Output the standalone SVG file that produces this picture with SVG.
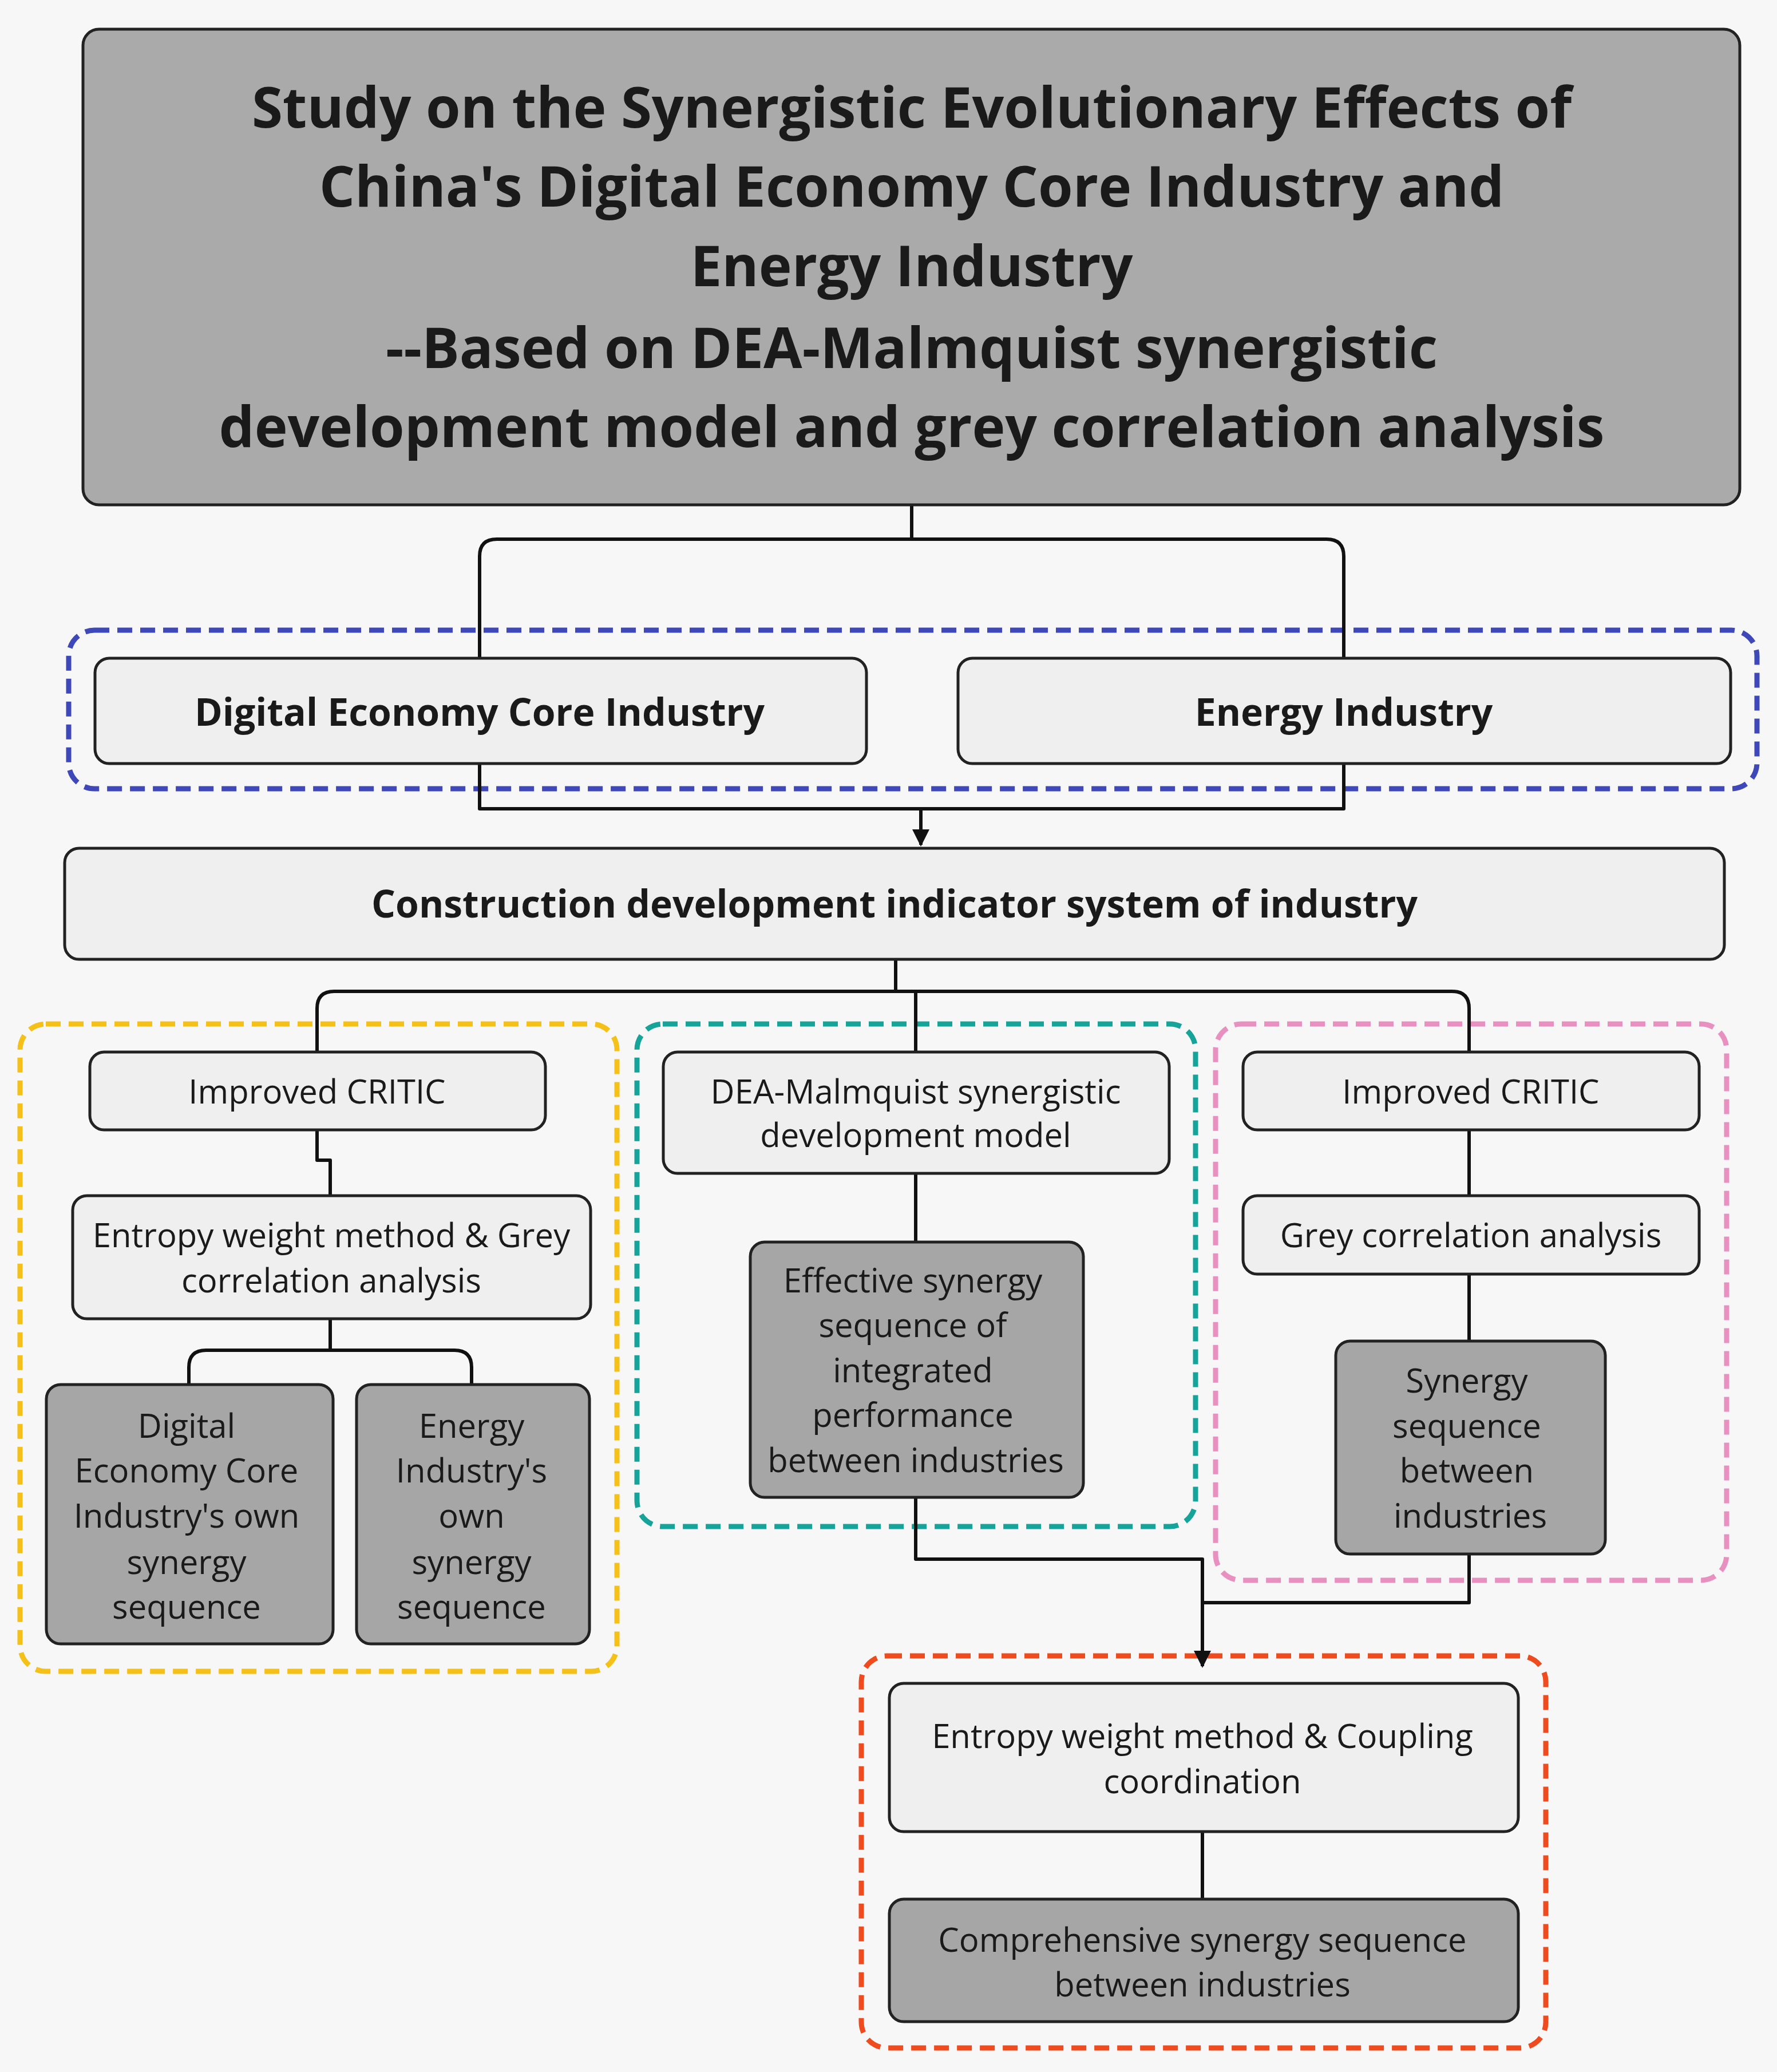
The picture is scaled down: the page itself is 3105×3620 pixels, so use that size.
<svg xmlns="http://www.w3.org/2000/svg" width="3105" height="3620" viewBox="0 0 3105 3620">
<defs>
<style>
.t{font-family:"Open Sans","Liberation Sans",sans-serif;fill:#1a1a1a;text-anchor:middle;dominant-baseline:central}
.b{font-weight:bold}
.n{font-size:58px}
.l{fill:#efefef;stroke:#222;stroke-width:5}
.d{fill:#a6a6a6;stroke:#222;stroke-width:5}
.g{fill:none;stroke-width:9;stroke-dasharray:26 14}
.c{fill:none;stroke:#111;stroke-width:6;stroke-linejoin:round}
</style>
<marker id="a" viewBox="0 0 10 10" refX="9" refY="5" markerWidth="5" markerHeight="5" orient="auto"><path d="M0,0L10,5L0,10z" fill="#111"/></marker>
</defs>
<rect width="3105" height="3620" fill="#f7f7f7"/>
<g id="groups">
<rect class="g" x="120" y="1101" width="2950" height="277" rx="45" stroke="#3f48b8"/>
<rect class="g" x="35" y="1789" width="1043" height="1131" rx="45" stroke="#f5c018"/>
<rect class="g" x="1113" y="1789" width="976" height="878" rx="45" stroke="#15a39a"/>
<rect class="g" x="2124" y="1789" width="893" height="972" rx="45" stroke="#e890c0"/>
<rect class="g" x="1505" y="2893" width="1196" height="685" rx="45" stroke="#f04b1e"/>
</g>
<g id="connectors">
<path class="c" d="M1593,882V942H868Q838,942 838,972V1150M1593,942H2318Q2348,942 2348,972V1150"/>
<path class="c" d="M838,1334V1413H2348V1334"/>
<path class="c" d="M1609,1413V1476" marker-end="url(#a)"/>
<path class="c" d="M1565,1676V1732M584,1732H2537Q2567,1732 2567,1762V1838M554,1838V1762Q554,1732 584,1732M1600,1732V1838"/>
<path class="c" d="M554,1974V2027H577V2089"/>
<path class="c" d="M577,2304V2359M360,2359H794Q824,2359 824,2389V2419M330,2419V2389Q330,2359 360,2359"/>
<path class="c" d="M1600,2050V2170"/>
<path class="c" d="M2567,1974V2089M2567,2226V2343"/>
<path class="c" d="M1600,2616V2724H2101V2911" marker-end="url(#a)"/>
<path class="c" d="M2567,2715V2800H2101"/>
<path class="c" d="M2101,3200V3318"/>
</g>
<g id="title">
<rect x="145" y="51" width="2895" height="831" rx="28" fill="#aaaaaa" stroke="#222" stroke-width="5"/>
<text class="t b" font-size="98"><tspan x="1593" y="185">Study on the Synergistic Evolutionary Effects of</tspan><tspan x="1593" y="323">China's Digital Economy Core Industry and</tspan><tspan x="1593" y="462">Energy Industry</tspan><tspan x="1593" y="605">--Based on DEA-Malmquist synergistic</tspan><tspan x="1593" y="743">development model and grey correlation analysis</tspan></text>
</g>
<g id="dec"><rect class="l" x="166" y="1150" width="1348" height="184" rx="25"/><text class="t b" font-size="66" x="838" y="1242">Digital Economy Core Industry</text></g>
<g id="ei"><rect class="l" x="1674" y="1150" width="1350" height="184" rx="25"/><text class="t b" font-size="66" x="2348" y="1242">Energy Industry</text></g>
<g id="cons"><rect class="l" x="113" y="1482" width="2900" height="194" rx="25"/><text class="t b" font-size="66" x="1563" y="1577">Construction development indicator system of industry</text></g>
<g id="critic1"><rect class="l" x="157" y="1838" width="796" height="136" rx="25"/><text class="t n" x="554" y="1905">Improved CRITIC</text></g>
<g id="ewg"><rect class="l" x="127" y="2089" width="905" height="215" rx="25"/><text class="t n"><tspan x="579" y="2156">Entropy weight method &amp; Grey</tspan><tspan x="579" y="2235">correlation analysis</tspan></text></g>
<g id="decseq"><rect class="d" x="81" y="2419" width="501" height="453" rx="25"/><text class="t n"><tspan x="326" y="2489">Digital</tspan><tspan x="326" y="2567">Economy Core</tspan><tspan x="326" y="2646">Industry's own</tspan><tspan x="326" y="2727">synergy</tspan><tspan x="326" y="2805">sequence</tspan></text></g>
<g id="eiseq"><rect class="d" x="623" y="2419" width="407" height="453" rx="25"/><text class="t n"><tspan x="824" y="2489">Energy</tspan><tspan x="824" y="2567">Industry's</tspan><tspan x="824" y="2646">own</tspan><tspan x="824" y="2727">synergy</tspan><tspan x="824" y="2805">sequence</tspan></text></g>
<g id="dea"><rect class="l" x="1159" y="1838" width="884" height="212" rx="25"/><text class="t n"><tspan x="1600" y="1905">DEA-Malmquist synergistic</tspan><tspan x="1600" y="1981">development model</tspan></text></g>
<g id="eff"><rect class="d" x="1311" y="2170" width="582" height="446" rx="25"/><text class="t n"><tspan x="1595" y="2235">Effective synergy</tspan><tspan x="1595" y="2313">sequence of</tspan><tspan x="1595" y="2392">integrated</tspan><tspan x="1595" y="2470">performance</tspan><tspan x="1600" y="2549">between industries</tspan></text></g>
<g id="critic2"><rect class="l" x="2172" y="1838" width="797" height="136" rx="25"/><text class="t n" x="2570" y="1905">Improved CRITIC</text></g>
<g id="grey"><rect class="l" x="2172" y="2089" width="797" height="137" rx="25"/><text class="t n" x="2570" y="2156">Grey correlation analysis</text></g>
<g id="syn"><rect class="d" x="2334" y="2343" width="471" height="372" rx="25"/><text class="t n"><tspan x="2563" y="2410">Synergy</tspan><tspan x="2563" y="2489">sequence</tspan><tspan x="2563" y="2567">between</tspan><tspan x="2569" y="2646">industries</tspan></text></g>
<g id="ewc"><rect class="l" x="1554" y="2941" width="1099" height="259" rx="25"/><text class="t n"><tspan x="2101" y="3031">Entropy weight method &amp; Coupling</tspan><tspan x="2101" y="3110">coordination</tspan></text></g>
<g id="comp"><rect class="d" x="1554" y="3318" width="1099" height="214" rx="25"/><text class="t n"><tspan x="2101" y="3387">Comprehensive synergy sequence</tspan><tspan x="2101" y="3465">between industries</tspan></text></g>
</svg>
